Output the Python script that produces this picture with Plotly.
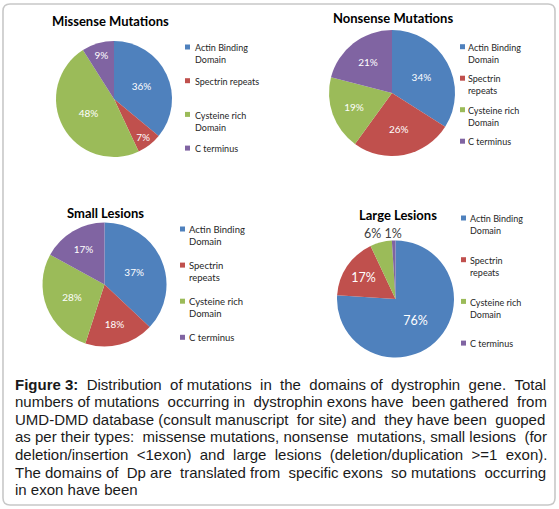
import plotly.graph_objects as go

W, H = 559, 509

# ---------------- data ----------------
categories = ["Actin Binding Domain", "Spectrin repeats", "Cysteine rich Domain", "C terminus"]
colors = ["#4F81BD", "#C0504D", "#9BBB59", "#8064A2"]

chart_titles = ["Missense Mutations", "Nonsense Mutations", "Small Lesions", "Large Lesions"]
missense = [36, 7, 48, 9]
nonsense = [34, 26, 19, 21]
small_lesions = [37, 18, 28, 17]
large_lesions = [76, 17, 6, 1]

legend_labels_missense = ["Actin Binding<br>Domain", "Spectrin repeats", "Cysteine rich<br>Domain", "C terminus"]
legend_labels_other = ["Actin Binding<br>Domain", "Spectrin<br>repeats", "Cysteine rich<br>Domain", "C terminus"]

caption_lines = [
    "Figure 3: Distribution of mutations in the domains of dystrophin gene. Total",
    "numbers of mutations occurring in dystrophin exons have been gathered from",
    "UMD-DMD database (consult manuscript for site) and they have been guoped",
    "as per their types: missense mutations, nonsense mutations, small lesions (for",
    "deletion/insertion <1exon) and large lesions (deletion/duplication >=1 exon).",
    "The domains of Dp are translated from specific exons so mutations occurring",
    "in exon have been",
]
caption_bold_words = 2  # "Figure 3:" in the first line

# ---------------- helpers ----------------
def fx(px):
    return px / W


def fy(py):
    return 1 - py / H


# Arial / Liberation Sans advance widths (1/1000 em) used to justify the caption
AW = {' ': 278, '\u00a0': 278, '(': 333, ')': 333, '-': 333, '.': 278, '/': 278, ',': 278,
      ':': 278, '<': 584, '>': 584, '=': 584, '1': 556, '3': 556,
      'A': 667, 'B': 667, 'C': 722, 'D': 722, 'E': 667, 'F': 611, 'G': 778, 'H': 722,
      'I': 278, 'M': 833, 'N': 722, 'O': 778, 'P': 667, 'S': 667, 'T': 611, 'U': 722,
      'a': 556, 'b': 556, 'c': 500, 'd': 556, 'e': 556, 'f': 278, 'g': 556, 'h': 556,
      'i': 222, 'j': 222, 'k': 500, 'l': 222, 'm': 833, 'n': 556, 'o': 556, 'p': 556,
      'q': 556, 'r': 333, 's': 500, 't': 278, 'u': 556, 'v': 500, 'w': 722, 'x': 500,
      'y': 500, 'z': 500}
AWB = {' ': 278, 'F': 611, 'i': 278, 'g': 611, 'u': 611, 'r': 389, 'e': 556, '3': 556, ':': 333}


def word_w(w, bold=False):
    t = AWB if bold else AW
    return sum(t.get(c, 556) for c in w) / 1000.0


fig = go.Figure()

panels = [
    dict(values=missense, legend=legend_labels_missense, cx=114, cy=99, r=58,
         tx=110, ty=21, lab=10, outside=[],
         sq_x=185, txt_x=194, leg_y0=47, leg_step=33.7, leg_fs=9),
    dict(values=nonsense, legend=legend_labels_other, cx=392, cy=93, r=63,
         tx=393, ty=18, lab=10, outside=[],
         sq_x=460, txt_x=467, leg_y0=46.7, leg_step=31.5, leg_fs=9),
    dict(values=small_lesions, legend=legend_labels_other, cx=104.5, cy=284.5, r=62,
         tx=105, ty=213, lab=10, outside=[],
         sq_x=180, txt_x=188, leg_y0=229, leg_step=36.1, leg_fs=9.5),
    dict(values=large_lesions, legend=legend_labels_other, cx=395.5, cy=299, r=58.5,
         tx=398, ty=215, lab=12.5, outside=[2, 3],
         sq_x=461, txt_x=469, leg_y0=218, leg_step=41.7, leg_fs=9),
]

shapes = []
annotations = []

for title, p in zip(chart_titles, panels):
    cx, cy, r = p["cx"], p["cy"], p["r"]
    templates = ["" if i in p["outside"] else "%{value}%" for i in range(len(categories))]
    fig.add_trace(go.Pie(
        labels=categories, values=p["values"], name=title,
        sort=False, direction="clockwise", rotation=0,
        marker=dict(colors=colors, line=dict(width=0)),
        texttemplate=templates, textposition="inside",
        insidetextorientation="horizontal",
        insidetextfont=dict(color="white", size=p["lab"], family="Lato"),
        domain=dict(x=[fx(cx - r), fx(cx + r)], y=[fy(cy + r), fy(cy - r)]),
        showlegend=False, hoverinfo="label+percent",
    ))
    if p["outside"]:
        # small slices labelled together just above the pie (as in the original)
        out_txt = " ".join("%d%%" % p["values"][i] for i in p["outside"])
        annotations.append(dict(
            text=out_txt, x=fx(cx - 12.5), y=fy(cy - r - 7), xref="paper", yref="paper",
            xanchor="center", yanchor="middle", showarrow=False, borderpad=0,
            font=dict(family="Lato", size=p["lab"], color="#404040")))
    annotations.append(dict(
        text="<b>%s</b>" % title, x=fx(p["tx"]), y=fy(p["ty"]), xref="paper", yref="paper",
        xanchor="center", yanchor="middle", showarrow=False, borderpad=0,
        font=dict(family="Lato", size=13, color="#000000")))
    for i, (lab, col) in enumerate(zip(p["legend"], colors)):
        yc = p["leg_y0"] + i * p["leg_step"]
        shapes.append(dict(type="rect", xref="paper", yref="paper",
                           x0=fx(p["sq_x"]), x1=fx(p["sq_x"] + 5),
                           y0=fy(yc + 2.5), y1=fy(yc - 2.5),
                           fillcolor=col, line=dict(width=0)))
        annotations.append(dict(
            text=lab, x=fx(p["txt_x"]), y=fy(yc - 0.65 * p["leg_fs"]), xref="paper", yref="paper",
            xanchor="left", yanchor="top", align="left", showarrow=False, borderpad=0,
            font=dict(family="Lato", size=p["leg_fs"], color="#262626")))

# ---------------- caption (justified) ----------------
CAP_FS = 15
CAP_LEFT, CAP_RIGHT = 14, 546
CAP_Y0, CAP_STEP = 384, 17.6
for li, line in enumerate(caption_lines):
    words = line.split(" ")
    bold_n = caption_bold_words if li == 0 else 0
    natural = sum(word_w(w, k < bold_n) for k, w in enumerate(words)) + (len(words) - 1) * 0.278
    gaps = len(words) - 1
    extra = 0
    if li < len(caption_lines) - 1 and gaps > 0:
        extra = max(0, round(((CAP_RIGHT - CAP_LEFT) / CAP_FS - natural) / 0.278))
    base, rem = divmod(extra, gaps) if gaps else (0, 0)
    parts = []
    for k, w in enumerate(words):
        parts.append(w)
        if k < gaps:
            add = base + (1 if rem and (k * rem) // gaps != ((k + 1) * rem) // gaps else 0)
            parts.append(" " + "\u00a0" * add)
    txt = "".join(parts)
    if bold_n:
        idx = txt.find(words[1]) + len(words[1])
        txt = "<b>" + txt[:idx] + "</b>" + txt[idx:]
    annotations.append(dict(
        text=txt, x=fx(CAP_LEFT), y=fy(CAP_Y0 + li * CAP_STEP), xref="paper", yref="paper",
        xanchor="left", yanchor="middle", align="left", showarrow=False, borderpad=0,
        font=dict(family="Liberation Sans", size=CAP_FS, color="#1a1a1a")))

# ---------------- outer rounded frame ----------------
x0, y0, x1, y1, rr = 3, 4, 555, 505, 7
path = (f"M {fx(x0 + rr)},{fy(y0)} L {fx(x1 - rr)},{fy(y0)} Q {fx(x1)},{fy(y0)} {fx(x1)},{fy(y0 + rr)} "
        f"L {fx(x1)},{fy(y1 - rr)} Q {fx(x1)},{fy(y1)} {fx(x1 - rr)},{fy(y1)} "
        f"L {fx(x0 + rr)},{fy(y1)} Q {fx(x0)},{fy(y1)} {fx(x0)},{fy(y1 - rr)} "
        f"L {fx(x0)},{fy(y0 + rr)} Q {fx(x0)},{fy(y0)} {fx(x0 + rr)},{fy(y0)} Z")
shapes.append(dict(type="path", xref="paper", yref="paper", path=path,
                   line=dict(color="#c8c8c8", width=1.6), fillcolor="rgba(0,0,0,0)"))

fig.update_layout(
    width=W, height=H, margin=dict(l=0, r=0, t=0, b=0),
    paper_bgcolor="white", plot_bgcolor="white",
    shapes=shapes, annotations=annotations, showlegend=False,
)

fig.write_html("out.html", config={"displayModeBar": False},
               post_script="document.body.style.margin='0';")
